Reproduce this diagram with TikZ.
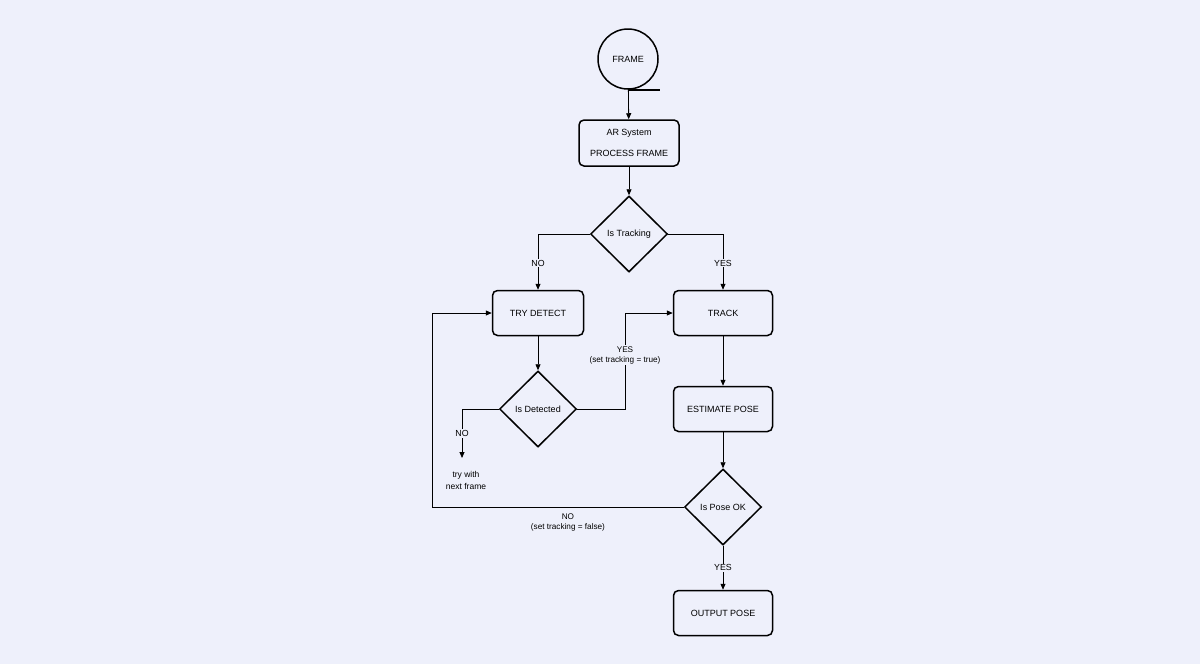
\documentclass[tikz,border=0pt]{standalone}
\usepackage{fontspec}
\setmainfont{Liberation Sans}
\usetikzlibrary{shapes.geometric,arrows.meta}
\definecolor{bgcol}{HTML}{EEF0FB}
\tikzset{
  block/.style={draw, line width=1.5pt, rounded corners=5pt, minimum width=99pt,
    minimum height=45pt, align=center, font=\fontsize{9}{11}\selectfont},
  decision/.style={draw, diamond, line width=1.5pt, minimum width=77pt,
    minimum height=76pt, inner sep=0pt, font=\fontsize{9}{11}\selectfont},
  arrow/.style={draw, line width=0.8pt, -{Triangle[length=6pt,width=5pt]}},
  lbl/.style={fill=bgcol, inner sep=1pt, font=\fontsize{8.8}{10}\selectfont},
  note/.style={fill=bgcol, inner sep=1pt, align=center, font=\fontsize{8.2}{10.5}\selectfont}
}

\begin{document}
\begin{tikzpicture}[x=1pt,y=-1pt]
            \fill[bgcol] (0,0) rectangle (1200,664);
            \useasboundingbox (0,0) rectangle (1200,664);
            % Start
            \node[circle, draw, line width=1.5pt, minimum size=60pt, font=\fontsize{9}{11}\selectfont] (frame) at (628,59) {FRAME};
            \draw[line width=1.5pt] (frame.south) -- ++(32,0);
            \node[block, minimum width=100pt, minimum height=46pt, font=\fontsize{9}{21}\selectfont] (arsys) at (629,143) {AR System\\PROCESS FRAME};
            \node[decision] (tracking) at (629,234) {Is Tracking};
            % Left branch
            \node[block, minimum width=91pt] (trydetect) at (538,313) {TRY DETECT};
            \node[decision] (detected) at (538,409) {Is Detected};
            \coordinate (retry) at (462,458);
            \node[align=center, inner sep=0pt, font=\fontsize{8.5}{12}\selectfont] (retrytxt) at (466,480) {try with\\next frame};
            % Right branch
            \node[block] (track) at (723,313) {TRACK};
            \node[block] (estimate) at (723,409) {ESTIMATE POSE};
            \node[decision] (poseok) at (723,507) {Is Pose OK};
            \node[block] (output) at (723,613) {OUTPUT POSE};
            \coordinate (yesbend) at (625,409);
            \coordinate (nobend) at (432,507);
            % Connectors
            \draw[arrow] (frame) -- (arsys);
            \draw[arrow] (arsys) -- (tracking);
            \draw[arrow] (tracking.west) -| node[lbl, pos=0.76]{NO} (trydetect);
            \draw[arrow] (tracking.east) -| node[lbl, pos=0.76]{YES} (track);
            \draw[arrow] (trydetect) -- (detected);
            \draw[arrow] (detected.west) -| node[lbl, pos=0.75]{NO} (retry);
            \draw[arrow] (detected.east) -- (yesbend) |- node[note, pos=0.28]{YES\\(set tracking = true)} (track.west);
            \draw[arrow] (track) -- (estimate);
            \draw[arrow] (estimate) -- (poseok);
            \draw[arrow] (poseok.west) -- node[note, below=5pt, pos=0.46]{NO\\(set tracking = false)} (nobend) |- (trydetect.west);
            \draw[arrow] (poseok) -- node[lbl]{YES} (output);
        \end{tikzpicture}
\end{document}
